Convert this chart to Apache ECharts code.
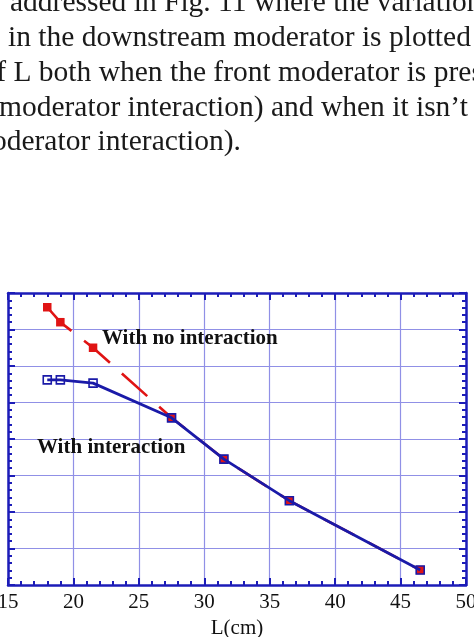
<!DOCTYPE html>
<html>
<head>
<meta charset="utf-8">
<script src="https://cdn.jsdelivr.net/npm/echarts@6/dist/echarts.min.js"></script>
<style>
html,body{margin:0;padding:0;background:#fff;}
#main{width:474px;height:637px;}
</style>
</head>
<body>
<div id="main"></div>
<script>
// ---- data ----
const L_cm = [18, 19, 21.5, 27.5, 31.5, 36.5, 46.5];
const noInteraction = [7.61, 7.20, 6.50, 4.58, 3.45, 2.31, 0.41];
const withInteraction = [5.62, 5.62, 5.53, 4.58, 3.45, 2.31, 0.41];
const xTicks = [15, 20, 25, 30, 35, 40, 45, 50];
const paragraphLines = [
  "addressed in Fig. 11 where the variation",
  "in the downstream moderator is plotted",
  "of L both when the front moderator is present",
  "moderator interaction) and when it isn\u2019t",
  "moderator interaction)."
];
const labelNoInt = "With no interaction";
const labelInt = "With interaction";

const AXIS = '#1c1cb8';
const GRID = '#9090e6';
const RED = '#e01414';
const BLUE = '#1a1aa8';
const SERIF = '"Liberation Serif", "DejaVu Serif", serif';

const chart = echarts.init(document.getElementById('main'), null, {renderer: 'canvas'});

const paraX = [10, 8, -18.5, -1, -31];
const paraY = [11, 46, 81, 116, 150];

const graphics = paragraphLines.map((t, i) => ({
  type: 'text',
  left: paraX[i],
  top: paraY[i] - 23,
  style: {text: t, font: '29.5px ' + SERIF, fill: '#1a1a1a'}
}));
graphics.push({type: 'text', left: 102, top: 328, z: 10,
  style: {text: labelNoInt, font: 'bold 21px ' + SERIF, fill: '#111'}});
graphics.push({type: 'text', left: 37, top: 437, z: 10,
  style: {text: labelInt, font: 'bold 21px ' + SERIF, fill: '#111'}});

const pairs = (ys) => L_cm.map((x, i) => [x, ys[i]]);

const baseX = {
  type: 'value', min: xTicks[0], max: xTicks[xTicks.length - 1], interval: 5
};
const baseY = {type: 'value', min: 0, max: 8, interval: 1};

chart.setOption({
  animation: false,
  backgroundColor: '#fff',
  grid: {left: 8, right: 8, top: 293, bottom: 52, containLabel: false, outerBoundsMode: 'none'},
  graphic: graphics,
  xAxis: [
    Object.assign({}, baseX, {
      position: 'bottom',
      name: 'L(cm)', nameLocation: 'middle', nameGap: 33,
      nameTextStyle: {fontFamily: SERIF, fontSize: 21, color: '#111'},
      axisLine: {show: true, onZero: false, lineStyle: {color: AXIS, width: 2.5}},
      axisTick: {show: true, inside: true, length: 7, lineStyle: {color: AXIS, width: 2}},
      minorTick: {show: true, splitNumber: 5, length: 4, lineStyle: {color: AXIS, width: 2}},
      axisLabel: {show: true, margin: 7, fontFamily: SERIF, fontSize: 21, color: '#111',
        showMinLabel: true, showMaxLabel: true},
      splitLine: {show: true, lineStyle: {color: GRID, width: 1.2}}
    }),
    Object.assign({}, baseX, {
      position: 'top',
      axisLine: {show: true, onZero: false, lineStyle: {color: AXIS, width: 2.5}},
      axisTick: {show: true, inside: true, length: 7, lineStyle: {color: AXIS, width: 2}},
      minorTick: {show: true, splitNumber: 5, length: 4, lineStyle: {color: AXIS, width: 2}},
      axisLabel: {show: false},
      splitLine: {show: false}
    })
  ],
  yAxis: [
    Object.assign({}, baseY, {
      position: 'left',
      axisLine: {show: true, onZero: false, lineStyle: {color: AXIS, width: 2.5}},
      axisTick: {show: true, inside: true, length: 7, lineStyle: {color: AXIS, width: 2}},
      minorTick: {show: true, splitNumber: 5, length: 4, lineStyle: {color: AXIS, width: 2}},
      axisLabel: {show: false},
      splitLine: {show: true, lineStyle: {color: GRID, width: 1.2}}
    }),
    Object.assign({}, baseY, {
      position: 'right',
      axisLine: {show: true, onZero: false, lineStyle: {color: AXIS, width: 2.5}},
      axisTick: {show: true, inside: true, length: 7, lineStyle: {color: AXIS, width: 2}},
      minorTick: {show: true, splitNumber: 5, length: 4, lineStyle: {color: AXIS, width: 2}},
      axisLabel: {show: false},
      splitLine: {show: false}
    })
  ],
  series: [
    {
      name: labelNoInt, type: 'line', data: pairs(noInteraction),
      xAxisIndex: 0, yAxisIndex: 0, z: 3,
      symbol: 'rect', symbolSize: 8.5,
      lineStyle: {color: RED, width: 2.6, type: [34, 16]},
      itemStyle: {color: RED, borderColor: RED, borderWidth: 0}
    },
    {
      name: labelInt, type: 'line', data: pairs(withInteraction),
      xAxisIndex: 0, yAxisIndex: 0, z: 4,
      symbol: 'rect', symbolSize: 8, showAllSymbol: true,
      lineStyle: {color: BLUE, width: 2.8},
      itemStyle: {color: 'rgba(0,0,0,0)', borderColor: BLUE, borderWidth: 1.6}
    }
  ]
});
</script>
</body>
</html>
